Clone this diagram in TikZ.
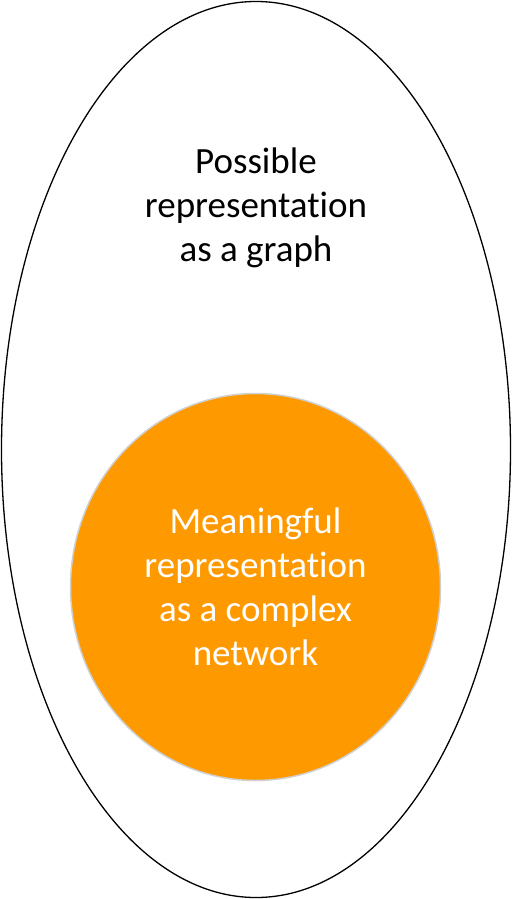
\documentclass[tikz,border=0pt]{standalone}
\usepackage{fontspec}
\setmainfont{Carlito}[Ligatures=NoCommon]
\usetikzlibrary{shapes.geometric}
\definecolor{netorange}{RGB}{255,153,0}
\definecolor{rimgray}{RGB}{208,208,208}
\tikzset{
  bigtext/.style={align=center, inner sep=0pt, outer sep=0pt,
    font=\fontsize{37bp}{44bp}\selectfont},
}
\begin{document}
\begin{tikzpicture}[x=1bp, y=1bp, line cap=round, line join=round]
  \useasboundingbox (0,0) rectangle (512,-899);
  \node[draw=black, line width=1.3bp, ellipse, inner sep=0pt,
    minimum width=509bp, minimum height=896bp] (graph) at (256,-449.5) {};
  \node[draw=rimgray, fill=netorange, line width=1.5bp, ellipse, inner sep=0pt,
    minimum width=370bp, minimum height=387bp] (network) at (255.5,-587) {};
  \node[bigtext, text=black] (graphtext) at (256,-208) {Possible\\representation\\as a graph};
  \node[bigtext, text=white] (networktext) at (network.center) {Meaningful\\representation\\as a complex\\network};
\end{tikzpicture}
\end{document}
